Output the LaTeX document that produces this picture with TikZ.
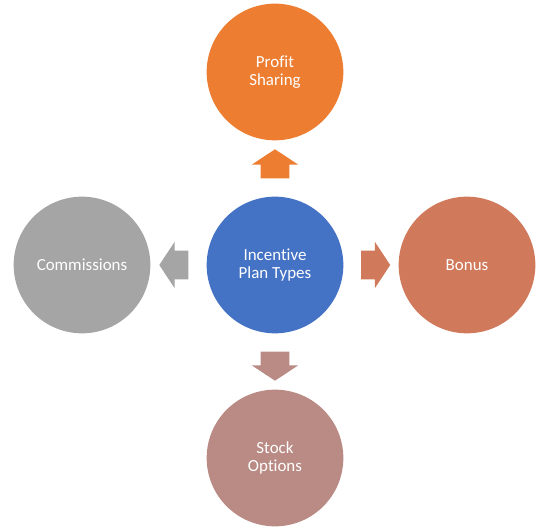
\documentclass[tikz,border=0pt]{standalone}
\usepackage{fontspec}
\setmainfont{Carlito}[Ligatures=CommonOff]
\usetikzlibrary{shapes.arrows,calc}

\definecolor{hubblue}{HTML}{4472C4}
\definecolor{profitorange}{HTML}{ED7D31}
\definecolor{bonusred}{HTML}{D0795B}
\definecolor{commgray}{HTML}{A5A5A5}
\definecolor{stockrose}{HTML}{B98B84}

\tikzset{
  plan/.style={circle, minimum size=102.5pt, inner sep=0pt, text=white,
    align=center, font=\fontsize{12.7}{13.7}\selectfont},
  blockarrow/.style={single arrow, minimum height=21.75pt, minimum width=34.5pt,
    inner xsep=0pt, inner ysep=10.5pt, single arrow head extend=6.75pt,
    single arrow tip angle=113}
}

\begin{document}
\begin{tikzpicture}[x=0.75pt, y=0.75pt]
\useasboundingbox (0,0) rectangle (550,532);

% Circles
\node[plan, fill=hubblue] (hub) at (275,267) {Incentive\\Plan Types};
\node[plan, fill=profitorange] (profit) at (275,460) {Profit\\Sharing};
\node[plan, fill=bonusred] (bonus) at (467,267) {Bonus};
\node[plan, fill=commgray] (comm) at (82,267) {Commissions};
\node[plan, fill=stockrose] (stock) at (275,74) {Stock\\Options};

% Arrows
\node[blockarrow, fill=profitorange, rotate=90] (toprofit) at ($(hub)!0.5!(profit)$) {};
\node[blockarrow, fill=bonusred] (tobonus) at ($(hub)!0.5!(bonus)$) {};
\node[blockarrow, fill=commgray, rotate=180] (tocomm) at ($(hub)!0.5!(comm)$) {};
\node[blockarrow, fill=stockrose, rotate=-90] (tostock) at ($(hub)!0.5!(stock)$) {};
\end{tikzpicture}
\end{document}
